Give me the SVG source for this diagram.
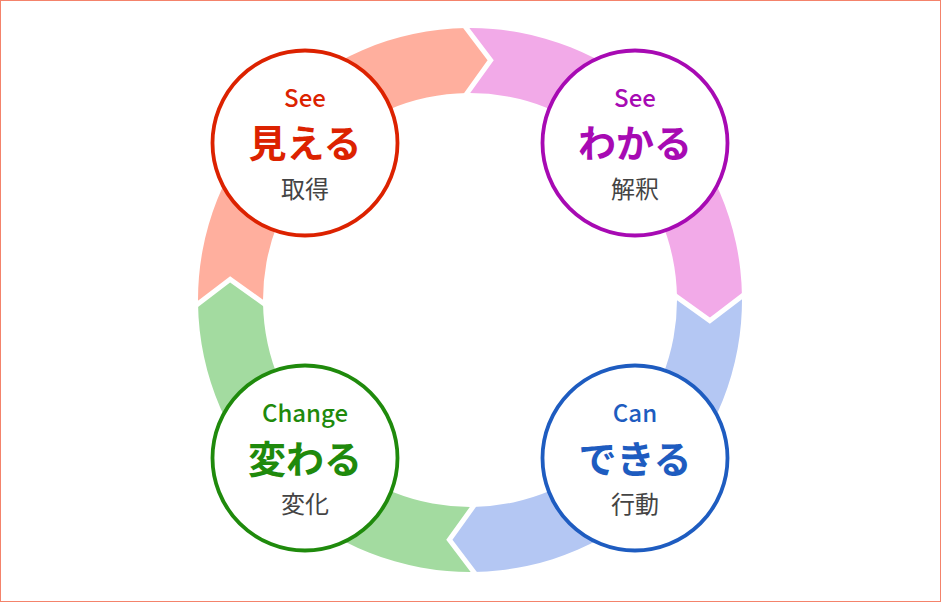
<svg xmlns="http://www.w3.org/2000/svg" width="941" height="602" viewBox="0 0 941 602">
<style>
.gap{fill:none;stroke:#fff;stroke-width:5;stroke-linejoin:miter}
.node circle{fill:#fff;stroke-width:3.8}
text{font-family:"Noto Sans CJK JP","Noto Sans",sans-serif;text-anchor:middle}
.en{font-size:24px;font-weight:500}
.jp{font-size:38px;font-weight:700}
.sub{font-size:24px;font-weight:400;fill:#444}
</style>
<rect x="0.5" y="0.5" width="940" height="601" fill="#fff" stroke="#F4836B" stroke-width="1"/>
<g id="connectors" transform="rotate(-0.8 470 300)">
<path id="arc-see" fill="#FFAF9E" d="M198,300 A272,272 0 0 1 470,28 L494,60.5 L470,93 A207,207 0 0 0 263,300 L230.5,276 Z"/>
<path id="arc-wakaru" fill="#F2AAE8" d="M470,28 A272,272 0 0 1 742,300 L709.5,324 L677,300 A207,207 0 0 0 470,93 L494,60.5 Z"/>
<path id="arc-dekiru" fill="#B4C7F3" d="M742,300 A272,272 0 0 1 470,572 L446,539.5 L470,507 A207,207 0 0 0 677,300 L709.5,324 Z"/>
<path id="arc-kawaru" fill="#A3DBA0" d="M470,572 A272,272 0 0 1 198,300 L230.5,276 L263,300 A207,207 0 0 0 470,507 L446,539.5 Z"/>
<polyline class="gap" points="465.2,21.5 494,60.5 465.2,99.5"/>
<polyline class="gap" points="748.5,295.2 709.5,324 670.5,295.2"/>
<polyline class="gap" points="474.8,578.5 446,539.5 474.8,500.5"/>
<polyline class="gap" points="191.5,304.8 230.5,276 269.5,304.8"/>
</g>
<g id="node-mieru" class="node">
<circle cx="305" cy="143" r="92.5" stroke="#DC2200"/>
<text x="305" y="107" class="en" fill="#DC2200">See</text>
<text x="305" y="157" class="jp" fill="#DC2200">見える</text>
<text x="305" y="198" class="sub">取得</text>
</g>
<g id="node-wakaru" class="node">
<circle cx="635" cy="143" r="92.5" stroke="#A70AB3"/>
<text x="635" y="107" class="en" fill="#A70AB3">See</text>
<text x="635" y="157" class="jp" fill="#A70AB3">わかる</text>
<text x="635" y="198" class="sub">解釈</text>
</g>
<g id="node-dekiru" class="node">
<circle cx="635" cy="458" r="92.5" stroke="#1E5CC0"/>
<text x="635" y="422" class="en" fill="#1E5CC0">Can</text>
<text x="635" y="473" class="jp" fill="#1E5CC0">できる</text>
<text x="635" y="513" class="sub">行動</text>
</g>
<g id="node-kawaru" class="node">
<circle cx="305" cy="458" r="92.5" stroke="#1F8A0C"/>
<text x="305" y="422" class="en" fill="#1F8A0C">Change</text>
<text x="305" y="473" class="jp" fill="#1F8A0C">変わる</text>
<text x="305" y="513" class="sub">変化</text>
</g>
</svg>
